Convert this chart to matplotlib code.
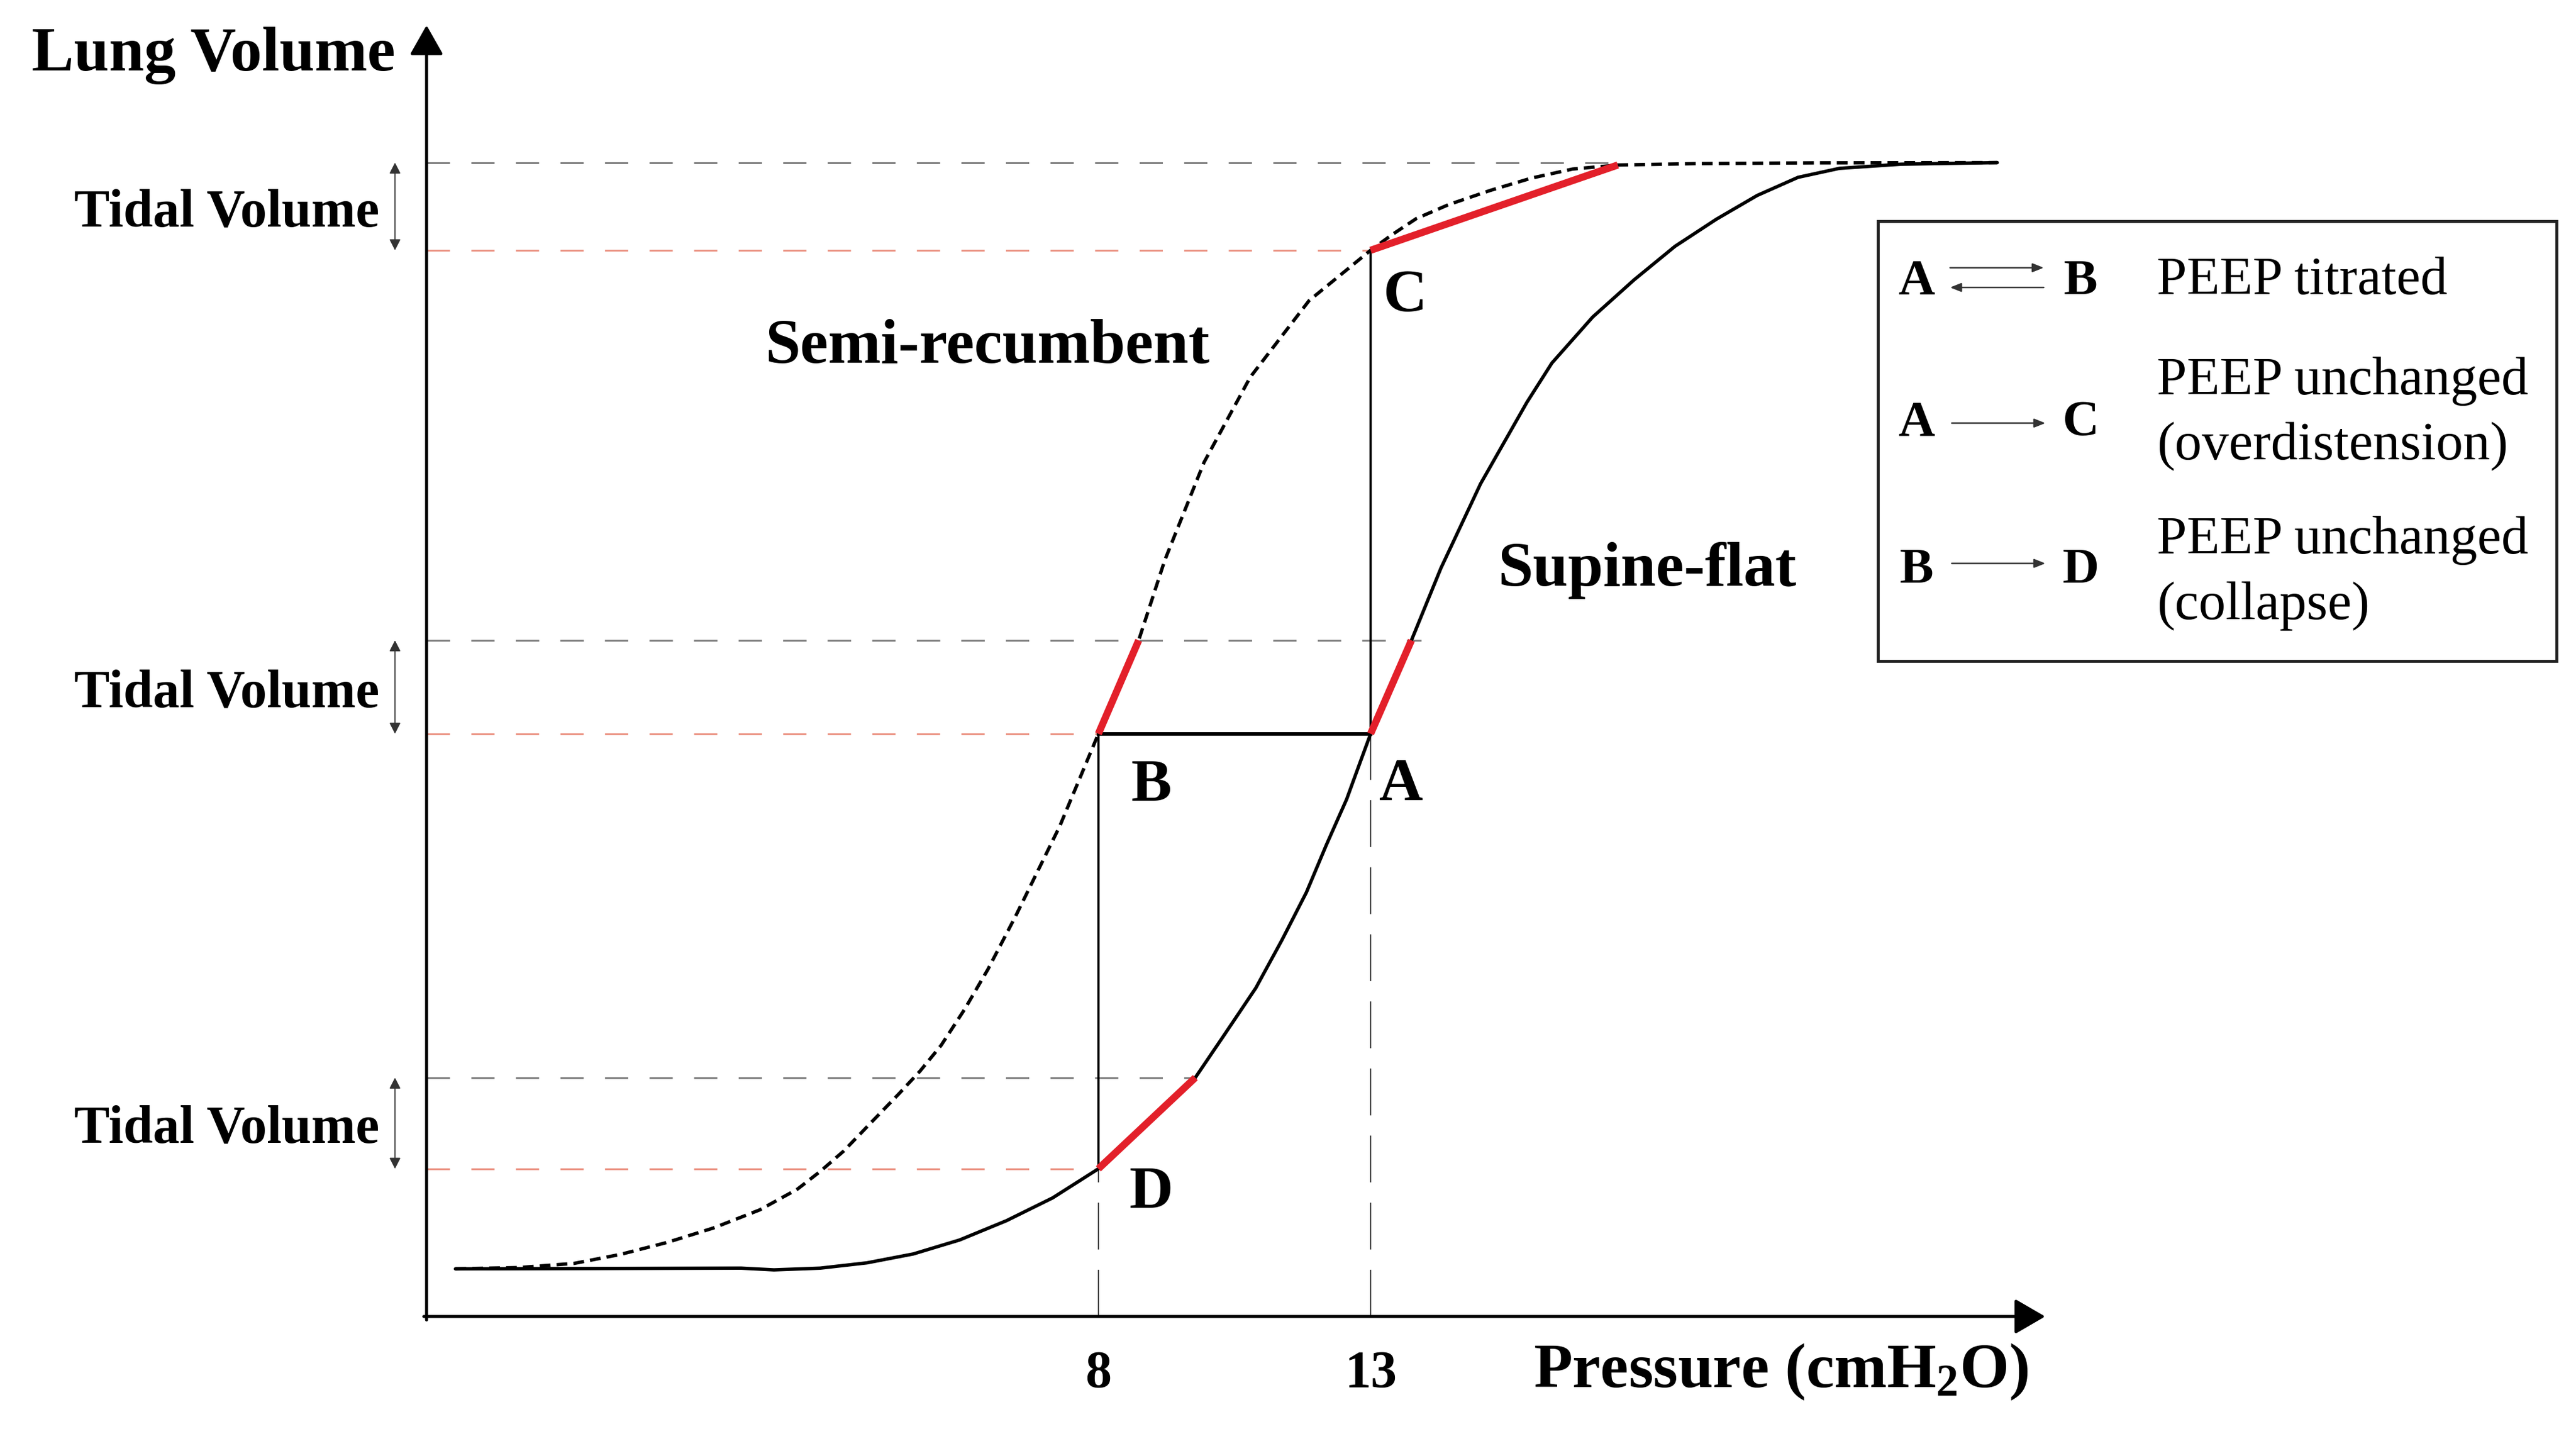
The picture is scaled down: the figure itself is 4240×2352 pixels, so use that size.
import matplotlib
matplotlib.use("Agg")
import matplotlib.pyplot as plt
from matplotlib.patches import Rectangle

plt.rcParams['font.family'] = ['Liberation Serif', 'DejaVu Serif']
plt.rcParams['mathtext.fontset'] = 'custom'
plt.rcParams['mathtext.rm'] = 'Liberation Serif'
plt.rcParams['mathtext.bf'] = 'Liberation Serif:bold'
plt.rcParams['mathtext.default'] = 'bf'

# ---------------- data ----------------
# Supine-flat pressure-volume curve (solid)
supine_p = [-3.81, 1.44, 2.04, 2.89, 3.75, 4.60, 5.45, 6.31, 7.16, 8.00, 9.78,
            10.33, 10.89, 11.37, 11.82, 12.19, 12.56, 12.82, 13.00, 13.75, 14.29,
            15.02, 15.87, 16.33, 17.08, 17.84, 18.59, 19.35, 20.10, 20.85, 21.61,
            22.74, 24.51]
supine_v = [4.13, 4.19, 4.04, 4.19, 4.65, 5.42, 6.63, 8.30, 10.28, 12.80, 20.70,
            24.53, 28.46, 32.61, 36.75, 40.90, 44.83, 48.19, 50.50, 58.60, 64.84,
            72.17, 79.22, 82.63, 86.62, 89.84, 92.74, 95.09, 97.15, 98.72, 99.50,
            99.86, 100.0]
# Semi-recumbent pressure-volume curve (dashed)
semi_p = [-3.81, -2.65, -1.63, -0.78, 0.08, 0.93, 1.78, 2.47, 2.89, 3.32, 3.83,
          4.34, 4.73, 5.11, 5.54, 5.97, 6.48, 7.29, 8.00, 8.74, 9.22, 9.94, 10.79,
          11.87, 13.00, 13.39, 13.84, 14.44, 15.20, 15.95, 16.71, 17.54, 18.97,
          21.23, 24.51]
semi_v = [4.13, 4.24, 4.60, 5.38, 6.42, 7.67, 9.24, 11.03, 12.57, 14.33, 16.83,
          19.32, 21.30, 23.49, 26.60, 30.08, 34.70, 42.49, 50.50, 58.60, 65.55,
          74.02, 81.41, 88.04, 92.40, 93.74, 95.15, 96.37, 97.59, 98.65, 99.44,
          99.79, 99.91, 99.98, 100.0]

point_names = ['A', 'B', 'C', 'D']
point_p = [13.0, 8.0, 13.0, 8.0]
point_v = [50.5, 50.5, 92.4, 12.8]
# end of each tidal breath (red segment end)
breath_end_p = [13.75, 8.74, 17.54, 9.78]
breath_end_v = [58.6, 58.6, 99.79, 20.7]
# end-inspiratory guide levels and their extents
insp_level_v = [58.6, 58.6, 100.0, 20.7]
insp_guide_p = [13.93, 13.93, 17.54, 9.78]

tick_values = [8, 13]
tick_labels = ['8', '13']

legend_from = ['A', 'A', 'B']
legend_to = ['B', 'C', 'D']
legend_desc = [['PEEP titrated'],
               ['PEEP unchanged', '(overdistension)'],
               ['PEEP unchanged', '(collapse)']]

# ---------------- figure ----------------
fig = plt.figure(figsize=(42.4, 23.52), dpi=100, facecolor='white')
ax = fig.add_axes([0, 0, 1, 1])
ax.set_xlim(-12.175, 35.14)
ax.set_ylim(-9.75, 114.09)
ax.axis('off')

P0, V0 = -4.34, 0.0
GREY = '#7f7f7f'
SALMON = '#eb9282'
RED = '#e3202a'
ref_ls = (0, (12.5, 11.5))

# guide lines (grey = end-inspiration, salmon = end-expiration)
for i in range(4):
    ax.plot([P0, insp_guide_p[i]], [insp_level_v[i], insp_level_v[i]],
            color=GREY, lw=2.2, ls=ref_ls, zorder=1)
for name in ['C', 'A', 'D']:
    i = point_names.index(name)
    ax.plot([P0, point_p[i]], [point_v[i], point_v[i]],
            color=SALMON, lw=2.2, ls=ref_ls, zorder=1)

# vertical thin dashed lines down to the axis at the PEEP levels
for name in ['D', 'A']:
    i = point_names.index(name)
    ax.plot([point_p[i], point_p[i]], [V0, point_v[i]], color='#444444',
            lw=1.5, ls=(0, (37, 16)), zorder=1)

# solid connectors
iA, iB, iC, iD = [point_names.index(n) for n in 'ABCD']
ax.plot([point_p[iA], point_p[iC]], [point_v[iA], point_v[iC]], color='black', lw=2.6, zorder=2)
ax.plot([point_p[iB], point_p[iD]], [point_v[iB], point_v[iD]], color='black', lw=2.6, zorder=2)
ax.plot([point_p[iB], point_p[iA]], [point_v[iB], point_v[iA]], color='black', lw=4.2, zorder=2)

# curves
ax.plot(supine_p, supine_v, color='black', lw=4.0, solid_capstyle='round',
        solid_joinstyle='round', zorder=3)
ax.plot(semi_p, semi_v, color='black', lw=4.0, ls=(0, (3.2, 1.8)),
        dash_joinstyle='round', zorder=3)

# tidal breaths (red)
for i in range(4):
    ax.plot([point_p[i], breath_end_p[i]], [point_v[i], breath_end_v[i]],
            color=RED, lw=8.5, solid_capstyle='butt', zorder=4)

# axes arrows
ax.annotate('', xy=(25.39, V0), xytext=(P0 - 0.05, V0),
            arrowprops=dict(arrowstyle='-|>,head_length=0.31,head_width=0.18',
                            mutation_scale=100, lw=3.6, color='black',
                            shrinkA=0, shrinkB=0), zorder=5)
ax.annotate('', xy=(P0, 111.9), xytext=(P0, V0 - 0.3),
            arrowprops=dict(arrowstyle='-|>,head_length=0.30,head_width=0.17',
                            mutation_scale=100, lw=3.6, color='black',
                            shrinkA=0, shrinkB=0), zorder=5)

# tidal volume markers on the left
for i in [iC, iA, iD]:
    lo, hi = point_v[i], insp_level_v[i]
    ax.annotate('', xy=(-4.92, hi), xytext=(-4.92, lo),
                arrowprops=dict(arrowstyle='<|-|>,head_length=0.55,head_width=0.28',
                                mutation_scale=20, lw=1.3, color='#333333',
                                shrinkA=0, shrinkB=0))
    ax.text(-5.205, (lo + hi) / 2 - 1.7, 'Tidal Volume', ha='right', va='baseline',
            fontsize=63, fontweight='bold')

# point labels
label_offsets = {'A': (36.4, -78.7), 'B': (62.5, -78.7), 'C': (40.3, -72.0), 'D': (61.9, -46.0)}
for i, n in enumerate(point_names):
    ax.annotate(n, xy=(point_p[i], point_v[i]), xytext=label_offsets[n],
                textcoords='offset points', ha='center', va='baseline',
                fontsize=72, fontweight='bold')

# axis labels and ticks
ax.text(-4.91, 108.0, 'Lung Volume', ha='right', va='baseline', fontsize=75, fontweight='bold')
ax.text(15.99, -6.13, r'Pressure (cmH$_\mathbf{2}$O)', ha='left', va='baseline',
        fontsize=75, fontweight='bold')
for tv, tl in zip(tick_values, tick_labels):
    ax.text(tv, -6.13, tl, ha='center', va='baseline', fontsize=62, fontweight='bold')

# curve names
ax.text(5.96, 82.69, 'Semi-recumbent', ha='center', va='baseline', fontsize=75, fontweight='bold')
ax.text(18.08, 63.32, 'Supine-flat', ha='center', va='baseline', fontsize=75, fontweight='bold')

# ---------------- legend box ----------------
def fx(xd):
    return xd / 1568.0

def fy(yd):
    return 1.0 - yd / 870.0

T = ax.transAxes
ax.add_patch(Rectangle((fx(1143), fy(402.5)), fx(1556) - fx(1143), fy(134.6) - fy(402.5),
                       transform=T, fill=False, lw=3.5, edgecolor='#222222', zorder=6))

row_base = [179.0, 265.0, 354.8]
row_arrow = [None, 257.6, 343.0]
desc_base = [[179.0], [240.0, 279.6], [337.0, 377.0]]
small_arrow = dict(arrowstyle='-|>,head_length=0.55,head_width=0.22', mutation_scale=20,
                   lw=1.8, color='#333333', shrinkA=0, shrinkB=0)
for r in range(3):
    ax.text(fx(1166.5), fy(row_base[r]), legend_from[r], transform=T, ha='center',
            va='baseline', fontsize=60, fontweight='bold')
    ax.text(fx(1266.5), fy(row_base[r]), legend_to[r], transform=T, ha='center',
            va='baseline', fontsize=60, fontweight='bold')
    for line, yb in zip(legend_desc[r], desc_base[r]):
        ax.text(fx(1313), fy(yb), line, transform=T, ha='left', va='baseline', fontsize=64)
    if r == 0:
        ax.annotate('', xy=(fx(1244), fy(163)), xytext=(fx(1187), fy(163)),
                    xycoords=T, textcoords=T, arrowprops=small_arrow)
        ax.annotate('', xy=(fx(1187), fy(175)), xytext=(fx(1244), fy(175)),
                    xycoords=T, textcoords=T, arrowprops=small_arrow)
    else:
        ax.annotate('', xy=(fx(1245), fy(row_arrow[r])), xytext=(fx(1188), fy(row_arrow[r])),
                    xycoords=T, textcoords=T, arrowprops=small_arrow)

fig.savefig('out.png', dpi=100, facecolor='white')
